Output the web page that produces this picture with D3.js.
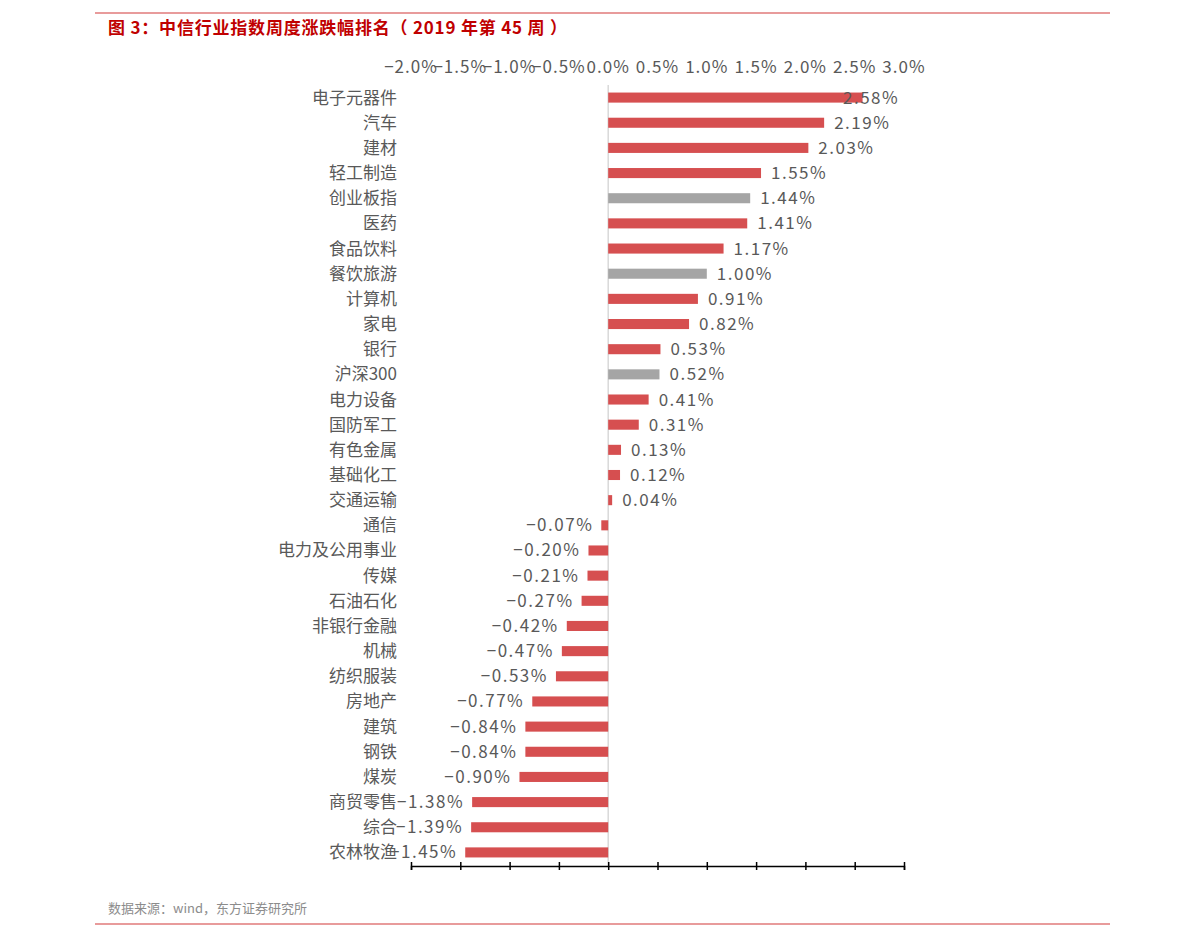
<!DOCTYPE html>
<html>
<head>
<meta charset="utf-8">
<script src="https://cdn.jsdelivr.net/npm/d3@7"></script>
<style>
  body { margin: 0; background: #fff; }
  text { font-family: "Noto Sans CJK SC", "DejaVu Sans", sans-serif; }
</style>
</head>
<body>
<svg id="chart"></svg>
<script>
  const categories = ["电子元器件","汽车","建材","轻工制造","创业板指","医药","食品饮料","餐饮旅游","计算机","家电","银行","沪深300","电力设备","国防军工","有色金属","基础化工","交通运输","通信","电力及公用事业","传媒","石油石化","非银行金融","机械","纺织服装","房地产","建筑","钢铁","煤炭","商贸零售","综合","农林牧渔"];
  const values = [2.58,2.19,2.03,1.55,1.44,1.41,1.17,1.00,0.91,0.82,0.53,0.52,0.41,0.31,0.13,0.12,0.04,-0.07,-0.20,-0.21,-0.27,-0.42,-0.47,-0.53,-0.77,-0.84,-0.84,-0.90,-1.38,-1.39,-1.45];
  const benchmarks = ["创业板指","餐饮旅游","沪深300"];
  const tickValues = [-2.0,-1.5,-1.0,-0.5,0,0.5,1.0,1.5,2.0,2.5,3.0];

  width = 1191;
  height = 937;

  var svg = d3.select("#chart").attr("width", width).attr("height", height);

  // frame lines + title + source
  svg.append("line").attr("x1", 95).attr("x2", 1110).attr("y1", 13).attr("y2", 13)
    .attr("stroke", "#e07a7a").attr("stroke-width", 1.5);
  svg.append("line").attr("x1", 95).attr("x2", 1110).attr("y1", 924).attr("y2", 924)
    .attr("stroke", "#e07a7a").attr("stroke-width", 1.5);
  svg.append("text").attr("x", 108).attr("y", 34)
    .attr("fill", "#c00000").attr("font-size", 17).attr("font-weight", "bold")
    .attr("letter-spacing", 0.8)
    .text("图 3：中信行业指数周度涨跌幅排名（ 2019 年第 45 周 ）");
  svg.append("text").attr("x", 108).attr("y", 913)
    .attr("fill", "#8c8c8c").attr("font-size", 13)
    .text("数据来源：wind，东方证券研究所");

  const x = d3.scaleLinear().domain([-2, 3]).range([411, 904]);
  const y = d3.scaleBand().domain(categories).range([85, 865]).paddingInner(0.6).paddingOuter(0.3);

  // top tick labels
  svg.append("g").selectAll("text")
    .data(tickValues)
    .join("text")
    .attr("x", d => x(d))
    .attr("y", 73)
    .attr("text-anchor", "middle")
    .attr("font-size", 17)
    .attr("letter-spacing", 1)
    .attr("fill", "#595959")
    .text(d => d3.format(".1f")(d).replace("-", "−") + "%");

  // zero line
  svg.append("line").attr("x1", x(0)).attr("x2", x(0)).attr("y1", 85).attr("y2", 866)
    .attr("stroke", "#d9d9d9").attr("stroke-width", 1.5);

  // bars
  svg.append("g").selectAll("rect")
    .data(values)
    .join("rect")
    .attr("x", d => x(Math.min(0, d)))
    .attr("width", d => Math.abs(x(d) - x(0)))
    .attr("y", (d, i) => y(categories[i]))
    .attr("height", y.bandwidth())
    .attr("fill", (d, i) => benchmarks.includes(categories[i]) ? "#a5a5a5" : "#d64f50");

  // value labels
  svg.append("g").selectAll("text")
    .data(values)
    .join("text")
    .attr("x", d => d >= 0 ? Math.min(x(d) + 10, 843) : x(d) - 8)
    .attr("y", (d, i) => y(categories[i]) + y.bandwidth() / 2 + 6)
    .attr("text-anchor", d => d >= 0 ? "start" : "end")
    .attr("font-size", 17)
    .attr("letter-spacing", 1.5)
    .attr("fill", "#595959")
    .text(d => d3.format(".2f")(d).replace("-", "−") + "%");

  // category labels
  svg.append("g").selectAll("text")
    .data(categories)
    .join("text")
    .attr("x", 397)
    .attr("y", d => y(d) + y.bandwidth() / 2 + 6)
    .attr("text-anchor", "end")
    .attr("font-size", 17)
    .attr("fill", "#595959")
    .text(d => d);

  // bottom axis with crossing ticks
  var ax = svg.append("g").attr("transform", "translate(0,866)")
    .call(d3.axisBottom(x).tickValues(tickValues).tickSize(4).tickFormat(""));
  ax.select(".domain").attr("stroke", "#000").attr("stroke-width", 1.5);
  ax.selectAll(".tick line").attr("y1", -4).attr("stroke", "#000").attr("stroke-width", 1.5);
</script>
</body>
</html>
